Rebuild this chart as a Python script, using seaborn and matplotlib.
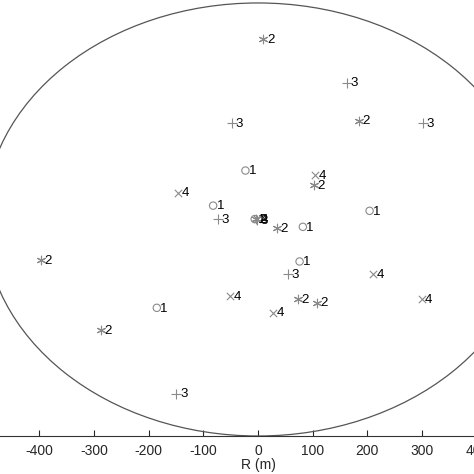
import matplotlib
matplotlib.use("Agg")
import matplotlib.pyplot as plt
import pandas as pd
import seaborn as sns
from matplotlib.patches import Circle

# positions of the sensors (m), grouped by label
x_1 = [-23, -82, 204, -6, 82, 76, -185]
y_1 = [113, 32, 20, 1, -17, -97, -204]
x_2 = [10, 184, 102, -4, 34, 73, 107, -397, -287]
y_2 = [417, 228, 79, 0, -20, -184, -192, -94, -255]
x_3 = [163, 301, -48, -73, -2, 54, -149]
y_3 = [316, 223, 222, 1, -1, -127, -402]
x_4 = [104, -146, -1, 210, -51, 299, 27]
y_4 = [103, 62, 1, -127, -177, -184, -215]
group_labels = ["1", "2", "3", "4"]
tick_values = [-400, -300, -200, -100, 0, 100, 200, 300, 400]
boundary_radius = 500


def buildFrame() -> pd.DataFrame:
    parts = []
    for lab, xs, ys in zip(group_labels, [x_1, x_2, x_3, x_4], [y_1, y_2, y_3, y_4]):
        parts.append(pd.DataFrame({"R": xs, "Z": ys, "label": lab}))
    return pd.concat(parts, ignore_index=True)


def main() -> None:
    df = buildFrame()
    sns.set_style("white")
    plt.rcParams["font.family"] = ["Liberation Sans", "DejaVu Sans"]

    fig = plt.figure(figsize=(4.74, 4.74), dpi=100)
    # axes is wider than the figure, the original was cropped on both sides
    ax = fig.add_axes([-15.5 / 474, 38 / 474, 547 / 474, 441.7 / 474])

    grey = "#8a8a8a"
    markerStyles = {
        "1": dict(marker="o", s=28, facecolors="none", edgecolors=grey, linewidths=0.8),
        "2": dict(marker=(6, 2, 0), s=38, color=grey, linewidths=0.8),
        "3": dict(marker="+", s=45, color=grey, linewidths=0.8),
        "4": dict(marker="x", s=28, color=grey, linewidths=0.8),
    }
    for lab in group_labels:
        sub = df[df["label"] == lab]
        sns.scatterplot(data=sub, x="R", y="Z", ax=ax, legend=False, **markerStyles[lab])
        for _, row in sub.iterrows():
            ax.annotate(
                lab, (row["R"], row["Z"]), xytext=(2.5, -0.5), textcoords="offset points",
                ha="left", va="center", fontsize=9.5, color="black",
            )

    ax.add_patch(Circle((0, 0), boundary_radius, fill=False, edgecolor="#555555", linewidth=0.9))

    ax.set_xlim(-500, 500)
    ax.set_ylim(-500, 520)
    ax.set_xticks(tick_values)
    ax.set_xticklabels([str(v) for v in tick_values])
    ax.set_yticks([])
    ax.set_xlabel("R (m)", fontsize=10, labelpad=-0.5)
    ax.set_ylabel("")
    ax.tick_params(axis="x", direction="in", length=4, width=0.8, labelsize=10, pad=6, bottom=True)
    for side in ["top", "left", "right"]:
        ax.spines[side].set_visible(False)
    ax.spines["bottom"].set_color("#333333")
    ax.spines["bottom"].set_linewidth(0.8)

    fig.savefig("out.png", dpi=100)


if __name__ == "__main__":
    main()
